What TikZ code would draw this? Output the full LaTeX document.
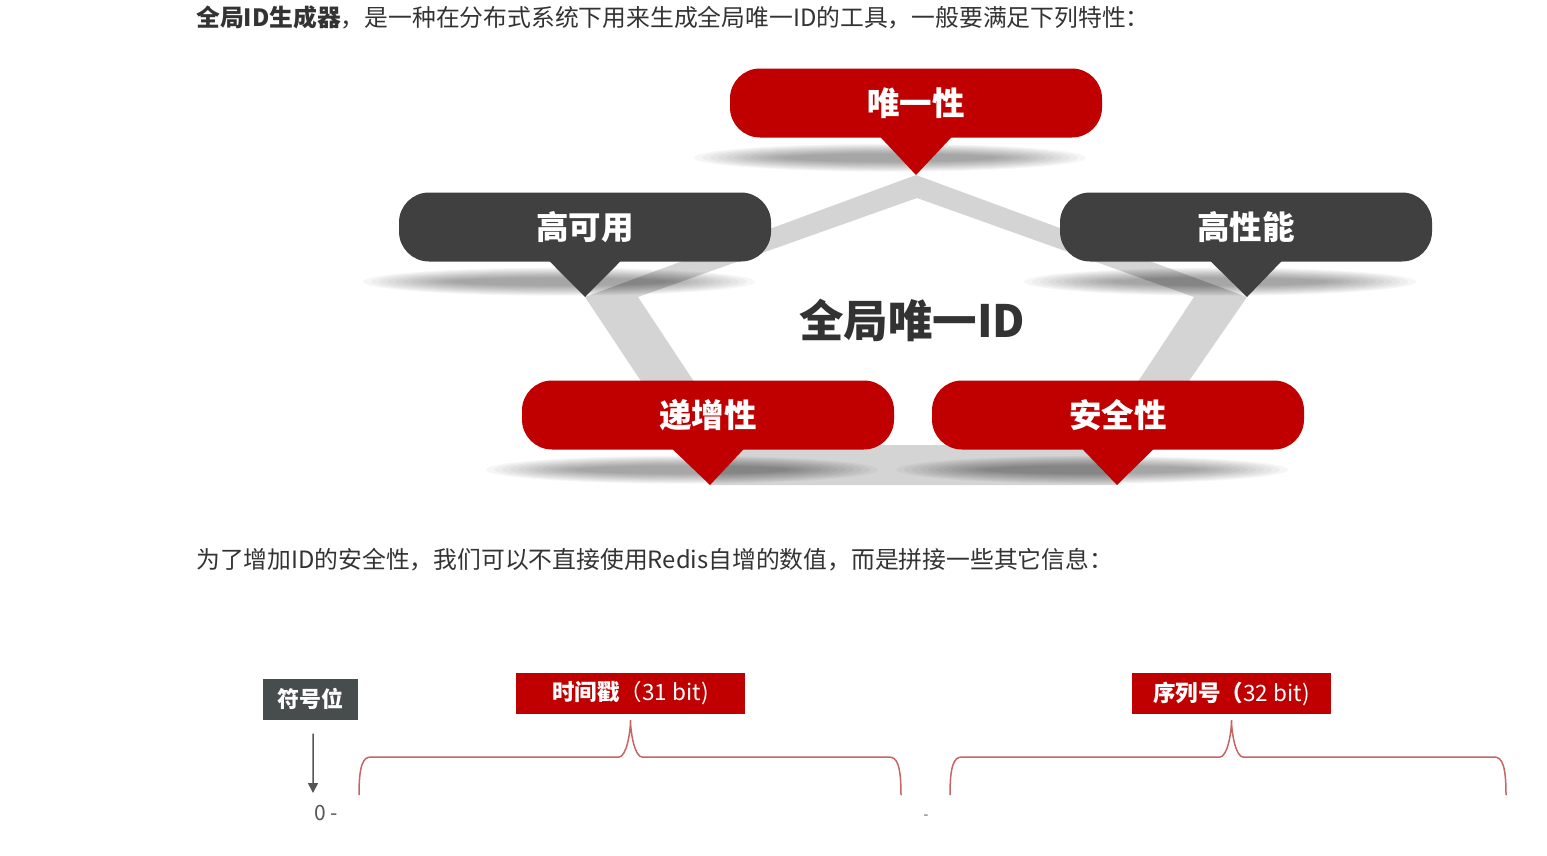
\documentclass[tikz,border=0pt]{standalone}
\usepackage{fontspec}
\setmainfont{Noto Sans CJK SC}
\usepackage{xcolor}
\usetikzlibrary{arrows.meta, positioning, calc, backgrounds}

\definecolor{redc}{HTML}{C00000}
\definecolor{darkc}{HTML}{404040}
\definecolor{bandc}{HTML}{D4D4D4}
\definecolor{textc}{HTML}{333333}
\definecolor{signc}{HTML}{474C4C}
\definecolor{bracec}{HTML}{C86464}
\definecolor{arrowc}{HTML}{555555}

\begin{document}
\begin{tikzpicture}[
  x=1bp, y=-1bp,
  bubble/.style={rectangle, rounded corners=30bp, minimum width=372bp, minimum height=69bp,
                 text=white, font=\fontsize{32.5bp}{36bp}\selectfont\bfseries, inner sep=0pt},
  bitbox/.style={rectangle, minimum height=41bp, text=white,
                 font=\fontsize{22.5bp}{26bp}\selectfont, inner sep=0pt},
  para/.style={anchor=west, text=textc, font=\fontsize{23.8bp}{28bp}\selectfont, inner sep=0pt},
  brace/.style={draw=bracec, line width=1.5bp},
  arr/.style={-{Triangle[length=10bp, width=10bp]}, draw=arrowc, line width=1.5bp}
]
\useasboundingbox (0,0) rectangle (1547,855);

% --- Texts ---
\node[para] (intro) at (196,17) {\textbf{全局ID生成器}，是一种在分布式系统下用来生成全局唯一ID的工具，一般要满足下列特性：};
\node[para] (note)  at (196,560) {为了增加ID的安全性，我们可以不直接使用Redis自增的数值，而是拼接一些其它信息：};

% --- Bubbles ---
\node[bubble, fill=redc]  (uniq)  at (916,103)  {唯一性};
\node[bubble, fill=darkc] (avail) at (585,227)  {高可用};
\node[bubble, fill=darkc] (perf)  at (1246,227) {高性能};
\node[bubble, fill=redc]  (incr)  at (708,415)  {递增性};
\node[bubble, fill=redc]  (safe)  at (1118,415) {安全性};
\node[font=\fontsize{44.5bp}{48bp}\selectfont\bfseries, text=textc] (core) at (912,320) {全局唯一ID};

% tips of the pointers
\coordinate (tuniq)  at (916,175);
\coordinate (tavail) at (585,297);
\coordinate (tperf)  at (1247,297);
\coordinate (tincr)  at (710,485);
\coordinate (tsafe)  at (1117,485);

% --- Pointers ---
\fill[redc]  ([xshift=-36bp,yshift=1bp]uniq.south)  -- (tuniq)  -- ([xshift=36bp,yshift=1bp]uniq.south)  -- cycle;
\fill[darkc] ([xshift=-36bp,yshift=1bp]avail.south) -- (tavail) -- ([xshift=36bp,yshift=1bp]avail.south) -- cycle;
\fill[darkc] ([xshift=-36bp,yshift=1bp]perf.south)  -- (tperf)  -- ([xshift=36bp,yshift=1bp]perf.south)  -- cycle;
\fill[redc]  ([xshift=-36bp,yshift=1bp]incr.south)  -- (tincr)  -- ([xshift=36bp,yshift=1bp]incr.south)  -- cycle;
\fill[redc]  ([xshift=-36bp,yshift=1bp]safe.south)  -- (tsafe)  -- ([xshift=36bp,yshift=1bp]safe.south)  -- cycle;

% --- Pentagon band and shadows ---
\begin{scope}[on background layer]
  \fill[bandc, even odd rule] (tuniq) -- (tperf) -- (tsafe) -- (tincr) -- (tavail) -- cycle
    (917,198) -- (1194,297) -- (1096,445) -- (736,445) -- (638,297) -- cycle;
  \foreach \b in {uniq, avail, perf, incr, safe}
    \foreach \k in {0,...,11}
      \fill[black, opacity=0.035] ([xshift=-26bp, yshift=-20bp]\b.south) ellipse ({196-8*\k} and {14-0.9*\k});
\end{scope}

% --- Bit layout ---
\node[bitbox, fill=signc, minimum width=95bp, font=\fontsize{22bp}{25bp}\selectfont\bfseries] (sign) at (310,699) {符号位};
\node[bitbox, fill=redc, minimum width=229bp] (ts)  at (630.5,693.5)  {\textbf{时间戳}（31 bit)};
\node[bitbox, fill=redc, minimum width=199bp] (seq) at (1231.5,693.5) {\textbf{序列号（}32 bit)};
\node[text=arrowc, font=\fontsize{21bp}{24bp}\selectfont, inner sep=0pt] (zero) at (326,813) {0 -};
\node[text=arrowc, font=\fontsize{14bp}{16bp}\selectfont, inner sep=0pt] (dash) at (926,817) {-};

\coordinate (signend) at (313,793);
\draw[arr] ([xshift=3bp,yshift=-14bp]sign.south) -- (signend);

% braces
\coordinate (tsl) at (359,795);
\coordinate (tsr) at (901,795);
\coordinate (tstip) at ([yshift=-6bp]ts.south);
\draw[brace] (tsl) .. controls +(0,-30) and +(-8,0) .. ++(12,-38)
  -- ($(tstip)+(-12,37)$) .. controls +(8,0) and +(0,12) .. (tstip)
  .. controls +(0,12) and +(-8,0) .. ++(12,37)
  -- ($(tsr)+(-12,-38)$) .. controls +(8,0) and +(0,-30) .. (tsr);

\coordinate (sql) at (950,795);
\coordinate (sqr) at (1506,795);
\coordinate (sqtip) at ([yshift=-6bp]seq.south);
\draw[brace] (sql) .. controls +(0,-30) and +(-8,0) .. ++(12,-38)
  -- ($(sqtip)+(-12,37)$) .. controls +(8,0) and +(0,12) .. (sqtip)
  .. controls +(0,12) and +(-8,0) .. ++(12,37)
  -- ($(sqr)+(-12,-38)$) .. controls +(8,0) and +(0,-30) .. (sqr);

\end{tikzpicture}
\end{document}
